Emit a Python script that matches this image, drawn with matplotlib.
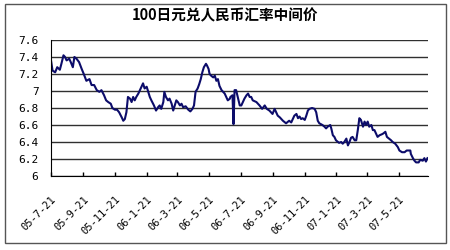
import matplotlib
matplotlib.use('Agg')
import matplotlib.pyplot as plt
from matplotlib.patches import Rectangle
from matplotlib.ticker import FuncFormatter
import pandas as pd

#data (100 JPY in CNY, central parity)
dates = [
    '2005-07-21', '2005-07-24', '2005-07-29', '2005-08-02', '2005-08-07', '2005-08-10',
    '2005-08-14', '2005-08-17', '2005-08-20', '2005-08-25', '2005-08-28', '2005-09-01',
    '2005-09-04', '2005-09-08', '2005-09-13', '2005-09-18', '2005-09-22', '2005-09-27',
    '2005-10-03', '2005-10-07', '2005-10-12', '2005-10-17', '2005-10-22', '2005-10-26',
    '2005-10-31', '2005-11-04', '2005-11-08', '2005-11-13', '2005-11-16', '2005-11-21',
    '2005-11-25', '2005-11-29', '2005-12-04', '2005-12-07', '2005-12-10', '2005-12-13',
    '2005-12-16', '2005-12-20', '2005-12-23', '2005-12-26', '2005-12-29', '2006-01-01',
    '2006-01-05', '2006-01-08', '2006-01-11', '2006-01-14', '2006-01-17', '2006-01-21',
    '2006-01-24', '2006-01-27', '2006-01-30', '2006-02-04', '2006-02-08', '2006-02-12',
    '2006-02-15', '2006-02-18', '2006-02-22', '2006-02-24', '2006-02-27', '2006-03-03',
    '2006-03-06', '2006-03-10', '2006-03-13', '2006-03-16', '2006-03-19', '2006-03-22',
    '2006-03-26', '2006-03-29', '2006-04-01', '2006-04-06', '2006-04-11', '2006-04-15',
    '2006-04-19', '2006-04-22', '2006-04-25', '2006-04-29', '2006-05-02', '2006-05-05',
    '2006-05-08', '2006-05-11', '2006-05-15', '2006-05-17', '2006-05-20', '2006-05-22',
    '2006-05-25', '2006-05-29', '2006-06-01', '2006-06-04', '2006-06-07', '2006-06-10',
    '2006-06-14', '2006-06-17', '2006-06-20', '2006-06-23', '2006-06-26', '2006-06-30',
    '2006-07-01', '2006-07-05', '2006-07-07', '2006-07-09', '2006-07-12', '2006-07-16',
    '2006-07-19', '2006-07-22', '2006-07-25', '2006-07-28', '2006-08-01', '2006-08-04',
    '2006-08-07', '2006-08-10', '2006-08-13', '2006-08-20', '2006-08-26', '2006-08-31',
    '2006-09-05', '2006-09-09', '2006-09-14', '2006-09-20', '2006-09-24', '2006-09-27',
    '2006-09-30', '2006-10-04', '2006-10-10', '2006-10-16', '2006-10-22', '2006-10-26',
    '2006-10-29', '2006-11-01', '2006-11-05', '2006-11-08', '2006-11-11', '2006-11-14',
    '2006-11-17', '2006-11-21', '2006-11-24', '2006-11-27', '2006-11-30', '2006-12-05',
    '2006-12-10', '2006-12-13', '2006-12-16', '2006-12-19', '2006-12-25', '2006-12-29',
    '2007-01-01', '2007-01-04', '2007-01-09', '2007-01-11', '2007-01-14', '2007-01-17',
    '2007-01-20', '2007-01-26', '2007-01-30', '2007-02-02', '2007-02-05', '2007-02-09',
    '2007-02-12', '2007-02-15', '2007-02-18', '2007-02-21', '2007-02-25', '2007-02-28',
    '2007-03-03', '2007-03-06', '2007-03-09', '2007-03-13', '2007-03-16', '2007-03-19',
    '2007-03-22', '2007-03-25', '2007-03-29', '2007-04-01', '2007-04-04', '2007-04-07',
    '2007-04-10', '2007-04-14', '2007-04-18', '2007-04-21', '2007-04-25', '2007-04-28',
    '2007-05-02', '2007-05-06', '2007-05-09', '2007-05-14', '2007-05-19', '2007-05-22',
    '2007-05-27', '2007-06-01', '2007-06-05', '2007-06-09', '2007-06-12', '2007-06-13',
    '2007-06-17', '2007-06-20', '2007-06-23', '2007-06-28', '2007-07-01', '2007-07-06',
    '2007-07-09', '2007-07-12', '2007-07-15',
]
rates = [
    7.36, 7.24, 7.22, 7.28, 7.25, 7.32,
    7.42, 7.40, 7.36, 7.38, 7.34, 7.28,
    7.40, 7.38, 7.34, 7.26, 7.20, 7.12,
    7.14, 7.07, 7.07, 7.01, 6.99, 7.01,
    6.95, 6.89, 6.87, 6.85, 6.80, 6.78,
    6.78, 6.75, 6.69, 6.65, 6.67, 6.75,
    6.93, 6.91, 6.87, 6.93, 6.89, 6.93,
    6.97, 7.01, 7.05, 7.09, 7.03, 7.05,
    6.99, 6.93, 6.89, 6.83, 6.77, 6.81,
    6.83, 6.79, 6.87, 6.99, 6.93, 6.89,
    6.91, 6.85, 6.77, 6.83, 6.89, 6.87,
    6.83, 6.85, 6.81, 6.82, 6.78, 6.76,
    6.79, 6.83, 6.99, 7.03, 7.08, 7.14,
    7.22, 7.28, 7.32, 7.30, 7.26, 7.20,
    7.18, 7.16, 7.18, 7.12, 7.14, 7.06,
    7.01, 6.99, 6.97, 6.93, 6.89, 6.91,
    6.93, 6.95, 6.61, 7.01, 7.01, 6.91,
    6.83, 6.83, 6.87, 6.91, 6.95, 6.97,
    6.93, 6.93, 6.89, 6.87, 6.83, 6.79,
    6.83, 6.79, 6.77, 6.73, 6.79, 6.75,
    6.71, 6.69, 6.65, 6.62, 6.65, 6.63,
    6.67, 6.71, 6.73, 6.68, 6.70, 6.67,
    6.68, 6.66, 6.71, 6.77, 6.79, 6.80,
    6.79, 6.75, 6.65, 6.62, 6.60, 6.58,
    6.56, 6.58, 6.60, 6.56, 6.48, 6.46,
    6.42, 6.39, 6.40, 6.38, 6.40, 6.44,
    6.36, 6.40, 6.45, 6.46, 6.42, 6.42,
    6.54, 6.68, 6.66, 6.58, 6.64, 6.60,
    6.64, 6.58, 6.60, 6.54, 6.54, 6.50,
    6.46, 6.48, 6.49, 6.50, 6.52, 6.46,
    6.44, 6.42, 6.40, 6.38, 6.34, 6.30,
    6.28, 6.28, 6.30, 6.30, 6.30, 6.26,
    6.21, 6.18, 6.16, 6.16, 6.19, 6.18,
    6.21, 6.17, 6.21,
]

tick_dates = ['2005-07-21', '2005-09-21', '2005-11-21', '2006-01-21', '2006-03-21', '2006-05-21',
              '2006-07-21', '2006-09-21', '2006-11-21', '2007-01-21', '2007-03-21', '2007-05-21']
tick_labels = ['05-7-21', '05-9-21', '05-11-21', '06-1-21', '06-3-21', '06-5-21',
               '06-7-21', '06-9-21', '06-11-21', '07-1-21', '07-3-21', '07-5-21']

title = '100日元兑人民币汇率中间价'

x = pd.to_datetime(dates)

fig = plt.figure(figsize=(4.5, 2.5), dpi=100)
ax = fig.add_axes([51/450, 1 - 176/250, 377/450, 136/250])

#outer frame around the whole chart
fig.patches.append(Rectangle((5/450, 7/250), 441/450, 239/250, transform=fig.transFigure,
                             fill=False, edgecolor='#555555', linewidth=1))

ax.plot(x, rates, color='#0c0c6a', linewidth=1.5)

ax.set_ylim(6, 7.6)
ax.set_yticks([6 + 0.2*i for i in range(9)])
ax.yaxis.set_major_formatter(FuncFormatter(lambda v, p: f'{round(v, 1):g}'))
ax.set_xlim(pd.Timestamp('2005-07-21'), pd.Timestamp('2007-07-16'))
ax.set_xticks(pd.to_datetime(tick_dates))
ax.set_xticklabels(tick_labels, rotation=45, ha='right', va='top', rotation_mode='anchor',
                   fontsize=7.5, family='DejaVu Sans Mono')

ax.grid(axis='y', color='#303030', linewidth=1)
ax.set_axisbelow(True)
for s in ['top', 'right']:
    ax.spines[s].set_visible(False)
ax.spines['left'].set_color('black')
ax.spines['bottom'].set_color('black')

ax.tick_params(axis='y', length=0, pad=9, labelsize=8)
for lbl in ax.get_yticklabels():
    lbl.set_family('DejaVu Sans Mono')
ax.tick_params(axis='x', direction='in', length=3, width=1, pad=13)

fig.text(0.5, 1 - 15/250, title, ha='center', va='center', fontsize=10.5, fontweight='bold',
         family=['Noto Sans CJK SC', 'DejaVu Sans'])

plt.savefig('out.png', dpi=100)
plt.close()
